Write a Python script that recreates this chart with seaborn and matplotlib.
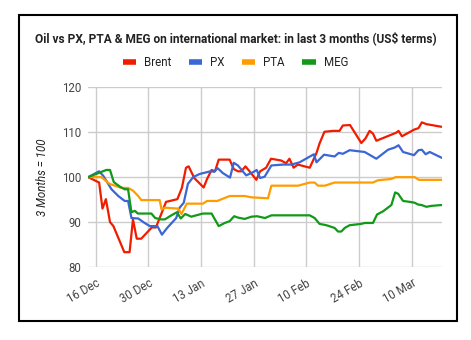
import numpy as np
import pandas as pd
import matplotlib
matplotlib.use("Agg")
import matplotlib.pyplot as plt
from matplotlib.lines import Line2D
from matplotlib.patches import Rectangle
import seaborn as sns

# ---- data (days counted from 16 Dec, index: 3 months ago = 100) ----
base_date = "2020-12-16"

brent_days = [-2.0, 0.9, 1.8, 2.7, 3.8, 4.7, 7.6, 9.0, 9.9, 10.9, 12.1, 14.9, 16.0, 18.7, 21.7, 22.9,
              24.0, 24.7, 26.2, 28.7, 29.6, 30.8, 31.7, 32.7, 35.6, 36.7, 37.8, 38.7, 39.8, 40.9,
              42.7, 43.7, 45.3, 46.6, 49.3, 50.6, 51.5, 52.6, 53.7, 56.9, 58.7, 59.5, 60.8, 63.1,
              64.8, 65.7, 67.6, 70.6, 71.7, 72.8, 73.7, 74.6, 79.9, 80.5, 81.4, 84.7, 85.8, 86.7,
              87.9, 92.0]
brent_vals = [100.0, 98.8, 93.0, 95.1, 90.0, 89.1, 83.3, 83.3, 90.6, 86.3, 86.3, 88.8, 88.8, 94.5, 95.1, 97.6,
              102.1, 102.4, 99.8, 97.7, 99.6, 101.6, 101.3, 103.9, 103.9, 101.8, 101.3, 101.3, 102.4, 101.3,
              99.4, 101.3, 102.1, 104.1, 103.7, 103.1, 104.1, 102.1, 102.8, 102.1, 105.4, 107.5, 110.1, 110.3,
              110.3, 111.5, 111.6, 107.6, 108.6, 110.3, 109.7, 108.1, 109.9, 110.3, 109.1, 110.6, 110.9, 112.2,
              111.8, 111.2]

px_days = [-2.0, 0.9, 2.0, 4.2, 6.0, 7.7, 8.6, 9.5, 11.3, 13.0, 14.4, 16.4, 17.6, 19.0, 21.4, 22.3,
           23.4, 24.5, 25.9, 27.6, 30.5, 31.5, 32.4, 33.8, 35.7, 36.7, 37.8, 40.0, 41.6, 42.8, 43.7,
           44.9, 46.7, 49.8, 52.0, 54.2, 58.0, 58.7, 60.7, 63.5, 64.6, 65.7, 67.5, 71.5, 74.6, 77.7,
           79.5, 80.5, 81.7, 84.6, 85.8, 86.7, 87.7, 88.8, 92.0]
px_vals = [100.0, 101.3, 100.3, 97.3, 95.8, 94.7, 94.7, 90.9, 90.8, 89.8, 89.1, 89.1, 87.2, 88.7, 90.9, 93.2,
           94.3, 98.5, 100.0, 100.7, 101.3, 101.2, 102.0, 100.9, 99.9, 103.2, 102.6, 100.4, 101.0, 101.6, 99.8,
           100.1, 102.6, 102.8, 102.8, 103.3, 105.1, 103.3, 105.0, 104.6, 105.4, 105.2, 106.0, 105.6, 104.1, 106.1,
           106.6, 107.1, 105.6, 104.9, 106.0, 106.1, 105.1, 105.6, 104.3]

pta_days = [-2.0, 1.5, 3.7, 5.1, 6.8, 8.6, 9.9, 11.3, 12.1, 17.0, 17.5, 18.4, 21.9, 22.8, 24.2, 28.5,
            29.6, 32.3, 35.6, 39.6, 41.5, 45.8, 46.7, 53.8, 56.9, 58.2, 59.1, 60.9, 63.5, 73.7, 75.0,
            78.6, 79.7, 84.8, 85.9, 92.0]
pta_vals = [100.0, 100.0, 98.5, 98.1, 97.6, 97.6, 97.0, 95.8, 94.9, 94.9, 92.8, 93.2, 93.0, 91.8, 94.1, 94.1,
            94.7, 94.7, 95.8, 95.8, 95.5, 95.3, 98.1, 98.1, 98.8, 98.8, 98.1, 98.1, 98.8, 98.8, 99.3,
            99.6, 100.0, 100.0, 99.4, 99.4]

meg_days = [-2.0, 1.0, 2.8, 3.8, 4.8, 6.4, 7.7, 8.6, 9.5, 10.4, 11.2, 14.8, 15.8, 17.3, 18.4, 19.7,
            21.6, 22.6, 23.8, 25.4, 28.5, 30.8, 32.7, 34.3, 35.6, 36.8, 37.8, 39.6, 41.4, 42.9, 45.0,
            46.7, 56.9, 58.2, 59.5, 61.3, 63.5, 64.4, 65.3, 66.2, 67.5, 70.6, 71.5, 73.7, 74.8, 76.4,
            78.6, 79.6, 80.4, 81.7, 83.5, 84.8, 85.7, 86.6, 87.9, 89.2, 92.0]
meg_vals = [100.0, 101.0, 101.6, 101.6, 98.9, 97.9, 97.3, 97.3, 92.2, 92.5, 91.9, 91.9, 90.9, 90.6, 90.6, 91.3,
            92.2, 90.8, 91.8, 91.2, 91.9, 91.9, 89.1, 89.8, 90.2, 91.3, 91.0, 90.7, 91.2, 91.3, 90.9,
            91.5, 91.5, 90.9, 89.6, 89.3, 88.7, 87.9, 87.9, 88.7, 89.3, 89.6, 89.8, 89.8, 91.7, 92.4,
            93.8, 96.6, 96.3, 94.7, 94.5, 94.3, 93.9, 93.8, 93.4, 93.6, 93.8]

series_names = ["Brent", "PX", "PTA", "MEG"]
series_colors = ["#f01c00", "#3a66d6", "#ff9c00", "#109a18"]

tick_days = [0, 14, 28, 42, 56, 70, 84]
tick_labels = ["16 Dec", "30 Dec", "13 Jan", "27 Jan", "10 Feb", "24 Feb", "10 Mar"]
y_ticks = [80, 90, 100, 110, 120]

title = "Oil vs PX, PTA & MEG on international market: in last 3 months (US$ terms)"
y_label = "3 Months = 100"

# ---- build long table ----
base = pd.Timestamp(base_date)
frames = []
for name, d, v in zip(series_names,
                      [brent_days, px_days, pta_days, meg_days],
                      [brent_vals, px_vals, pta_vals, meg_vals]):
    frames.append(pd.DataFrame({
        "date": base + pd.to_timedelta(np.array(d), unit="D"),
        "value": v,
        "series": name,
    }))
df = pd.concat(frames, ignore_index=True)

# ---- style ----
sns.set_style("white")
plt.rcParams["font.family"] = ["Roboto", "DejaVu Sans"]

W, H = 471, 340
fig = plt.figure(figsize=(W / 100, H / 100), dpi=100)
ax = fig.add_axes([88.2 / W, 1 - 267.0 / H, (441.8 - 88.2) / W, (267.0 - 87.3) / H])

sns.lineplot(data=df, x="date", y="value", hue="series", hue_order=series_names,
             palette=series_colors, estimator=None, sort=True, linewidth=1.6,
             legend=False, ax=ax)

ax.set_xlim(base + pd.Timedelta(days=-2.0), base + pd.Timedelta(days=92.0))
ax.set_ylim(80, 120)
ax.set_yticks(y_ticks)
ax.set_yticklabels([str(t) for t in y_ticks], fontsize=8.3, color="#444444")
ax.set_xticks([base + pd.Timedelta(days=t) for t in tick_days])
ax.set_xticklabels(tick_labels, rotation=30, ha="right", rotation_mode="anchor",
                   fontsize=8.3, color="#444444")
ax.tick_params(axis="y", length=0, pad=5)
ax.tick_params(axis="x", length=0, pad=7)
ax.grid(True, color="#cccccc", linewidth=1)
ax.set_axisbelow(True)
for s in ax.spines.values():
    s.set_visible(False)
ax.set_xlabel("")
ax.set_ylabel(y_label, fontsize=8.3, style="italic", color="#222222", labelpad=9)

fig.text(0.5, 1 - 38 / H, title, ha="center", va="center", fontsize=8.6,
         fontweight="bold", color="#222222")

handles = [Line2D([0], [0], color=c, lw=4, solid_capstyle="butt") for c in series_colors]
fig.legend(handles, series_names, loc="center", bbox_to_anchor=(0.5, 1 - 63 / H),
           ncol=4, frameon=False, fontsize=8.3, handlelength=1.15, handletextpad=0.7,
           columnspacing=1.5, labelcolor="#222222")

fig.add_artist(Rectangle((18.5 / W, 1 - 320.7 / H), (456.5 - 18.5) / W, (320.7 - 15) / H,
                         transform=fig.transFigure, fill=False, lw=1.5, ec="black"))

fig.savefig("out.png", dpi=100)
